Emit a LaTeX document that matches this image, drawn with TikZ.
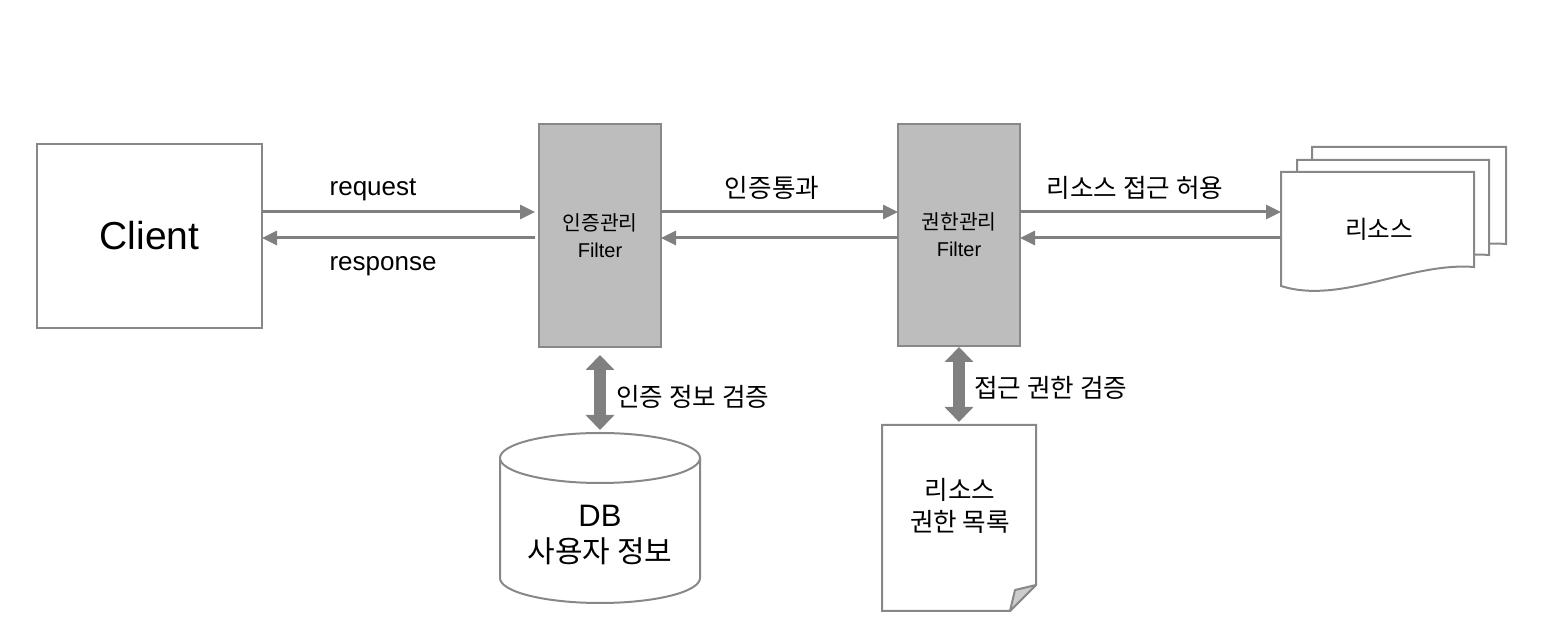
\documentclass[tikz,border=0pt]{standalone}
\usepackage{fontspec}
\setmainfont{Liberation Sans}
\newfontfamily\kr{Noto Sans CJK KR}
\usetikzlibrary{arrows.meta}
\definecolor{edge}{HTML}{888888}
\definecolor{arrowc}{HTML}{808080}
\definecolor{filterfill}{HTML}{BDBDBD}
\definecolor{foldfill}{HTML}{CCCCCC}
\tikzset{
  box/.style={draw=edge, line width=1pt, inner sep=0pt, outer sep=0pt},
  filterbox/.style={box, fill=filterfill, minimum width=61pt, minimum height=111.5pt, align=center, font=\fontsize{10}{13.5}\selectfont},
  arr/.style={draw=arrowc, line width=1.5pt, -{Triangle[length=7.5pt,width=7pt]}},
  fat/.style={draw=arrowc, line width=6pt, {Triangle[length=7.5pt,width=14pt]}-{Triangle[length=7.5pt,width=14pt]}},
  lbl/.style={inner sep=0pt, font=\fontsize{13}{15}\selectfont},
  klbl/.style={inner sep=0pt, font=\kr\fontsize{12.8}{15}\selectfont},
  shapeline/.style={draw=edge, line width=1pt, fill=white},
}
\begin{document}
\begin{tikzpicture}[x=0.5pt,y=-0.5pt]
\useasboundingbox (0,0) rectangle (1548,640);
% rows
\coordinate (ya) at (0,212);
\coordinate (yb) at (0,238);
% Client
\node[box, minimum width=112.5pt, minimum height=92pt, font=\fontsize{19.5}{22}\selectfont] (client) at (149.5,236) {Client};
% Filters
\node[filterbox] (f1) at (600,235.5) {{\kr\fontsize{10.2}{13.5}\selectfont 인증관리}\\Filter};
\node[filterbox, minimum height=111pt] (f2) at (959,235) {{\kr\fontsize{10.2}{13.5}\selectfont 권한관리}\\Filter};
% resource stack
\draw[shapeline] (1312,147) -- (1506,147) -- (1506,244) .. controls (1442,239) and (1372,282) .. (1312,263) -- cycle;
\draw[shapeline] (1297,160) -- (1489,160) -- (1489,255) .. controls (1425,250) and (1356,293) .. (1297,274) -- cycle;
\draw[shapeline] (1281,172) -- (1474,172) -- (1474,267) .. controls (1410,262) and (1340,305) .. (1281,286) -- cycle;
\node[inner sep=0pt, outer sep=0pt, minimum width=96.5pt, minimum height=57.5pt] (res) at (1377.5,229.5) {};
\node[klbl, font=\kr\fontsize{12.3}{14}\selectfont] at (1379,229) {리소스};
% horizontal arrows
\draw[arr] (client.east |- ya) -- ([xshift=-2pt]f1.west |- ya);
\draw[arr] ([xshift=-2pt]f1.west |- yb) -- (client.east |- yb);
\draw[arr] (f1.east |- ya) -- (f2.west |- ya);
\draw[arr] (f2.west |- yb) -- (f1.east |- yb);
\draw[arr] (f2.east |- ya) -- (res.west |- ya);
\draw[arr] (res.west |- yb) -- (f2.east |- yb);
% labels
\node[lbl] at (373,190) {request};
\node[lbl] at (383,266) {response};
\node[klbl] at (772,188) {인증통과};
\node[klbl] at (1135,188) {리소스 접근 허용};
% DB cylinder
\draw[shapeline] (500,458) -- (500,578) arc[start angle=180, end angle=360, x radius=50pt, y radius=12.5pt] -- (700,458);
\draw[shapeline] (600,458) ellipse[x radius=50pt, y radius=12.5pt];
\coordinate (dbtop) at (600,433);
\node[align=center, inner sep=0pt, font=\fontsize{15.5}{18}\selectfont] (db) at (600,535) {DB\\{\kr\fontsize{15}{18}\selectfont 사용자 정보}};
% permission list document
\node[inner sep=0pt, outer sep=0pt, minimum width=77pt, minimum height=93pt] (perm) at (959,518) {};
\draw[shapeline] (882,425) -- (1036,425) -- (1036,585) -- (1010,611) -- (882,611) -- cycle;
\draw[draw=edge, line width=1pt, fill=foldfill, line join=round] (1010,611) -- (1015,590) -- (1036,585) -- cycle;
\node[align=center, inner sep=0pt, font=\kr\fontsize{12.8}{16}\selectfont] at (960,506) {리소스\\권한 목록};
% vertical fat arrows
\draw[fat] ([yshift=-4pt]f1.south) -- ([yshift=1.5pt]dbtop);
\draw[fat] ([yshift=-0.5pt]f2.south) -- ([yshift=1.5pt]perm.north);
\node[klbl, anchor=west] at (616,397) {인증 정보 검증};
\node[klbl, anchor=west] at (974,388) {접근 권한 검증};
\end{tikzpicture}
\end{document}
